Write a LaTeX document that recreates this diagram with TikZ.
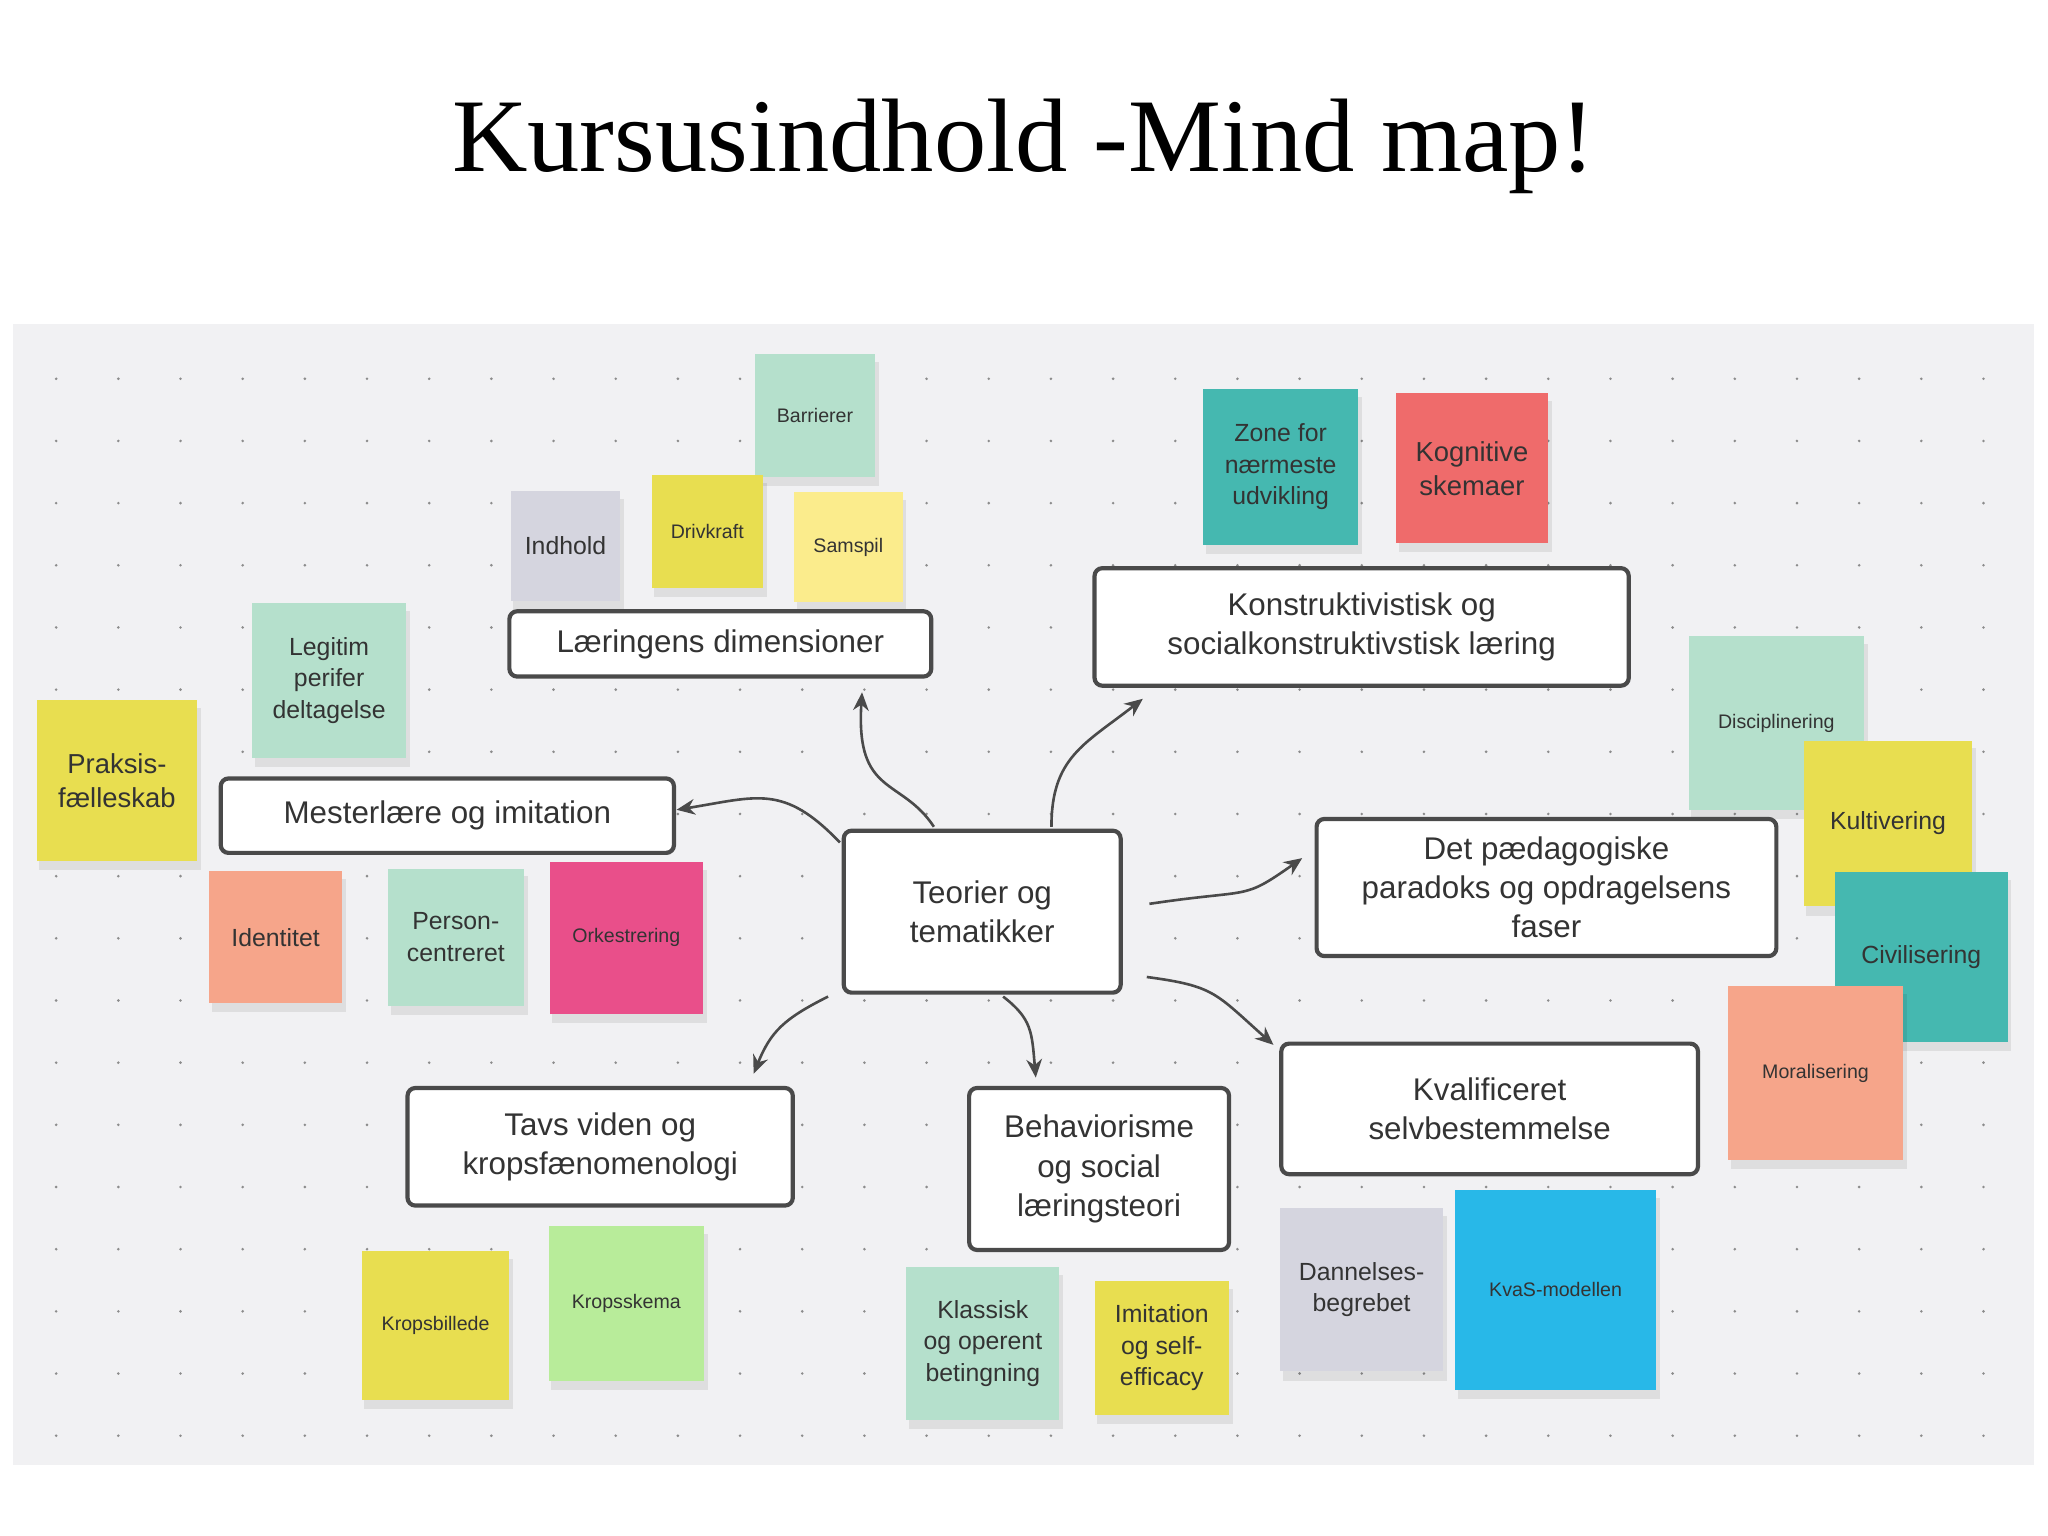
\documentclass[tikz,border=0pt]{standalone}
\usepackage{fontspec}
\setmainfont{Liberation Sans}
\newfontfamily\titlefont{Liberation Serif}
\usetikzlibrary{arrows.meta}
\definecolor{txt}{HTML}{333333}
\definecolor{bg}{HTML}{F1F1F3}
\definecolor{mint}{HTML}{B5E0CC}
\definecolor{lav}{HTML}{D5D5DF}
\definecolor{yel}{HTML}{E8DE50}
\definecolor{lyel}{HTML}{FBEC8C}
\definecolor{teal}{HTML}{45B8B0}
\definecolor{red}{HTML}{EF6B6B}
\definecolor{peach}{HTML}{F6A58A}
\definecolor{pink}{HTML}{E94F8A}
\definecolor{lgreen}{HTML}{B8EC9A}
\definecolor{blue}{HTML}{28B8E8}
\definecolor{bord}{HTML}{4A4A4A}
\tikzset{
 box/.style={draw=bord,line width=1.6pt,rounded corners=3pt,fill=white,align=center,text=txt,font=\fontsize{12}{15}\selectfont,inner sep=0pt},
 arr/.style={draw=bord,line width=1pt,-{Stealth[length=7pt,width=6pt]}},
}
\newcommand\stk[8]{%
 \fill[black,opacity=.08] (#2+2,#3+6) rectangle (#4+3,#5+7);
 \fill[#6] (#2,#3) rectangle (#4,#5);
 \node[font=#7,align=center,text=txt,inner sep=0pt] (#1) at ({(#2+#4)/2},{(#3+#5)/2}) {#8};}
\newcommand\bx[6]{%
 \pgfmathsetmacro\bw{(#4-#2)*0.5}\pgfmathsetmacro\bh{(#5-#3)*0.5}%
 \node[box,minimum width=\bw pt,minimum height=\bh pt] (#1) at ({(#2+#4)/2},{(#3+#5)/2}) {#6};}
\begin{document}
\begin{tikzpicture}[x=0.5pt,y=-0.5pt]
\useasboundingbox (0,0) rectangle (1568,1176);
\fill[white] (0,0) rectangle (1568,1176);
\node[font=\titlefont\fontsize{40}{48}\selectfont] (title) at (784,112) {Kursusindhold -Mind map!};
\fill[bg] (10,248) rectangle (1557,1122);
\foreach \i in {0,...,31}{\foreach \j in {0,...,17}{
 \fill[black!45] (43+47.6*\i,290+47.6*\j) circle (1.1);}}
% stickies
\def\sm{\fontsize{7.5}{10}\selectfont}
\def\md{\fontsize{9.5}{12}\selectfont}
\def\lg{\fontsize{10.5}{13}\selectfont}
\stk{s1}{578}{271}{670}{365}{mint}{\sm}{Barrierer}
\stk{s2}{391}{376}{475}{460}{lav}{\md}{Indhold}
\stk{s3}{499}{364}{584}{450}{yel}{\sm}{Drivkraft}
\stk{s4}{608}{377}{691}{461}{lyel}{\sm}{Samspil}
\stk{s5}{921}{298}{1040}{417}{teal}{\md}{Zone for\\nærmeste\\udvikling}
\stk{s6}{1069}{301}{1185}{416}{red}{\lg}{Kognitive\\skemaer}
\stk{s7}{193}{462}{311}{580}{mint}{\md}{Legitim\\perifer\\deltagelse}
\stk{s8}{28}{536}{151}{659}{yel}{\lg}{Praksis-\\fælleskab}
\stk{s9}{160}{667}{262}{768}{peach}{\md}{Identitet}
\stk{s10}{297}{665}{401}{770}{mint}{\md}{Person-\\centreret}
\stk{s11}{421}{660}{538}{776}{pink}{\sm}{Orkestrering}
\stk{s12}{1293}{487}{1427}{620}{mint}{\sm}{Disciplinering}
\stk{s13}{1381}{567}{1510}{694}{yel}{\md}{Kultivering}
\stk{s14}{1405}{668}{1537}{798}{teal}{\md}{Civilisering}
\stk{s15}{1323}{755}{1457}{888}{peach}{\sm}{Moralisering}
\stk{s16}{277}{958}{390}{1072}{yel}{\sm}{Kropsbillede}
\stk{s17}{420}{939}{539}{1057}{lgreen}{\sm}{Kropsskema}
\stk{s18}{694}{970}{811}{1087}{mint}{\md}{Klassisk\\og operent\\betingning}
\stk{s19}{838}{981}{941}{1083}{yel}{\md}{Imitation\\og self-\\efficacy}
\stk{s20}{980}{925}{1105}{1050}{lav}{\md}{Dannelses-\\begrebet}
\stk{s21}{1114}{911}{1268}{1064}{blue}{\sm}{KvaS-modellen}
% boxes
\bx{c}{646}{636}{858}{760}{Teorier og\\tematikker}
\bx{b1}{390}{468}{713}{518}{Læringens dimensioner}
\bx{b2}{838}{435}{1247}{525}{Konstruktivistisk og\\socialkonstruktivstisk læring}
\bx{b3}{169}{596}{516}{653}{Mesterlære og imitation}
\bx{b4}{1008}{627}{1360}{732}{Det pædagogiske\\paradoks og opdragelsens\\faser}
\bx{b5}{312}{833}{607}{923}{Tavs viden og\\kropsfænomenologi}
\bx{b6}{742}{833}{941}{957}{Behaviorisme\\og social\\læringsteori}
\bx{b7}{981}{799}{1300}{899}{Kvalificeret\\selvbestemmelse}
% arrows
\coordinate (e1) at (660,530); \coordinate (e2) at (875,535);
\coordinate (e3) at (518,620); \coordinate (e4) at (997,657);
\coordinate (e5) at (975,800); \coordinate (e6) at (793,825);
\coordinate (e7) at (577,822);
\coordinate (a1) at (715,633); \coordinate (a2) at (805,633);
\coordinate (a3) at (643,645); \coordinate (a4) at (880,692);
\coordinate (a5) at (878,748); \coordinate (a6) at (768,763);
\coordinate (a7) at (634,763);
\draw[arr] (a1) .. controls (690,595) and (655,610) .. (e1);
\draw[arr] (a2) .. controls (805,580) and (830,570) .. (e2);
\draw[arr] (a3) .. controls (600,600) and (580,610) .. (e3);
\draw[arr] (a4) .. controls (960,680) and (950,690) .. (e4);
\draw[arr] (a5) .. controls (930,755) and (930,760) .. (e5);
\draw[arr] (a6) .. controls (790,780) and (790,790) .. (e6);
\draw[arr] (a7) .. controls (600,780) and (590,790) .. (e7);
\end{tikzpicture}
\end{document}
